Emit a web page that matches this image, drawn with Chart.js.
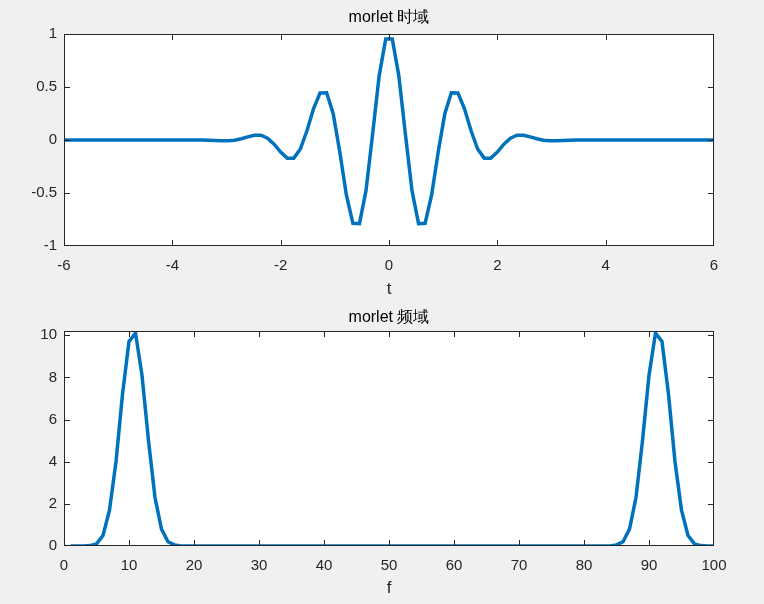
<!DOCTYPE html>
<html>
<head>
<meta charset="utf-8">
<script src="https://cdn.jsdelivr.net/npm/chart.js@4"></script>
<style>
  body { margin: 0; background: #f0f0f0; }
  .box { position: absolute; left: 0; width: 764px; height: 302px; }
</style>
</head>
<body>
<div class="box" style="top:0"><canvas id="timeChart"></canvas></div>
<div class="box" style="top:302px"><canvas id="freqChart"></canvas></div>
<script>
// time domain: 100 samples from -6 to 6 (even curve)
const timeHalf = [0.953, 0.605, 0.053, -0.477, -0.789, -0.786, -0.516, -0.111, 0.249, 0.445,
    0.443, 0.295, 0.087, -0.085, -0.171, -0.171, -0.114, -0.039, 0.017, 0.045,
    0.045, 0.030, 0.012, -0.002, -0.008, -0.008, -0.005, -0.002,
    0, 0, 0, 0, 0, 0, 0, 0, 0, 0, 0, 0, 0, 0, 0, 0, 0, 0, 0, 0, 0, 0];
const timeValues = timeHalf.slice().reverse().concat(timeHalf);
const timeTicksX = [-6, -4, -2, 0, 2, 4, 6];
const timeTicksY = [-1, -0.5, 0, 0.5, 1];

// frequency domain: f = 1..100
const freqValues = [0, 0, 0, 0.02, 0.1, 0.5, 1.7, 4.0, 7.2, 9.7, 10.1, 8.1, 5.0, 2.3, 0.8, 0.2, 0.05]
    .concat(new Array(67).fill(0))
    .concat([0.05, 0.2, 0.8, 2.3, 5.0, 8.1, 10.1, 9.7, 7.2, 4.0, 1.7, 0.5, 0.1, 0.02, 0, 0]);
const freqTicksX = [0, 10, 20, 30, 40, 50, 60, 70, 80, 90, 100];
const freqTicksY = [0, 2, 4, 6, 8, 10];

const FONT = '"Liberation Sans", Arial, sans-serif';

// MATLAB look: white axes, black box, inward ticks, title and x label
const matlabAxes = {
    id: 'matlabAxes',
    beforeDatasetsDraw(chart) {
        const { ctx, chartArea: a } = chart;
        ctx.save();
        ctx.fillStyle = '#ffffff';
        ctx.fillRect(a.left, a.top, a.right - a.left, a.bottom - a.top);
        ctx.restore();
    },
    afterDatasetsDraw(chart, args, opts) {
        const { ctx, chartArea: a, scales } = chart;
        ctx.save();
        ctx.strokeStyle = '#262626';
        ctx.lineWidth = 1;
        ctx.strokeRect(a.left + 0.5, a.top + 0.5, a.right - a.left - 1, a.bottom - a.top - 1);
        ctx.beginPath();
        scales.x.ticks.forEach(t => {
            const px = Math.min(Math.round(scales.x.getPixelForValue(t.value)), a.right - 1) + 0.5;
            ctx.moveTo(px, a.bottom); ctx.lineTo(px, a.bottom - 6);
            ctx.moveTo(px, a.top); ctx.lineTo(px, a.top + 6);
        });
        scales.y.ticks.forEach(t => {
            const py = Math.min(Math.round(scales.y.getPixelForValue(t.value)), a.bottom - 1) + 0.5;
            ctx.moveTo(a.left, py); ctx.lineTo(a.left + 6, py);
            ctx.moveTo(a.right, py); ctx.lineTo(a.right - 6, py);
        });
        ctx.stroke();
        ctx.fillStyle = '#000000';
        ctx.textAlign = 'center';
        ctx.textBaseline = 'middle';
        ctx.font = '16px ' + FONT;
        ctx.fillText(opts.title, (a.left + a.right) / 2, opts.titleY);
        ctx.fillStyle = '#262626';
        ctx.font = '17px ' + FONT;
        ctx.fillText(opts.label, (a.left + a.right) / 2, opts.labelY);
        ctx.restore();
    }
};

function makeChart(el, points, xr, yr, xTicks, yTicks, top, bottomH, title, titleY, label, labelY, fmt) {
    return new Chart(el, {
        type: 'line',
        data: {
            datasets: [{
                data: points,
                borderColor: '#0072BD',
                borderWidth: 3.5,
                pointRadius: 0,
                tension: 0,
                fill: false
            }]
        },
        options: {
            responsive: false,
            animation: false,
            layout: { padding: { top: top, right: 50, left: 0, bottom: 0 } },
            plugins: {
                legend: { display: false },
                tooltip: { enabled: false },
                matlabAxes: { title: title, titleY: titleY, label: label, labelY: labelY }
            },
            scales: {
                x: {
                    type: 'linear', min: xr[0], max: xr[1],
                    grid: { display: false, drawTicks: false },
                    border: { display: false },
                    afterBuildTicks: s => { s.ticks = xTicks.map(v => ({ value: v })); },
                    afterFit: s => { s.height = bottomH; },
                    ticks: { padding: 11, color: '#262626', font: { family: FONT, size: 15 }, maxRotation: 0 }
                },
                y: {
                    min: yr[0], max: yr[1],
                    grid: { display: false, drawTicks: false },
                    border: { display: false },
                    afterBuildTicks: s => { s.ticks = yTicks.map(v => ({ value: v })); },
                    afterFit: s => { s.width = 64; },
                    ticks: { padding: 7, color: '#262626', font: { family: FONT, size: 15 }, callback: fmt }
                }
            }
        },
        plugins: [matlabAxes]
    });
}

const timePoints = timeValues.map((v, i) => ({ x: -6 + 12 * i / 99, y: v }));
const freqPoints = freqValues.map((v, i) => ({ x: i + 1, y: v }));

for (const id of ['timeChart', 'freqChart']) {
    const c = document.getElementById(id);
    c.width = 764; c.height = 302;
}

makeChart(document.getElementById('timeChart'), timePoints, [-6, 6], [-1, 1],
    timeTicksX, timeTicksY, 34, 56, 'morlet 时域', 18, 't', 289, v => String(v));
makeChart(document.getElementById('freqChart'), freqPoints, [0, 100], [0, 10.2],
    freqTicksX, freqTicksY, 29, 58, 'morlet 频域', 16, 'f', 286, v => String(v));
</script>
</body>
</html>
